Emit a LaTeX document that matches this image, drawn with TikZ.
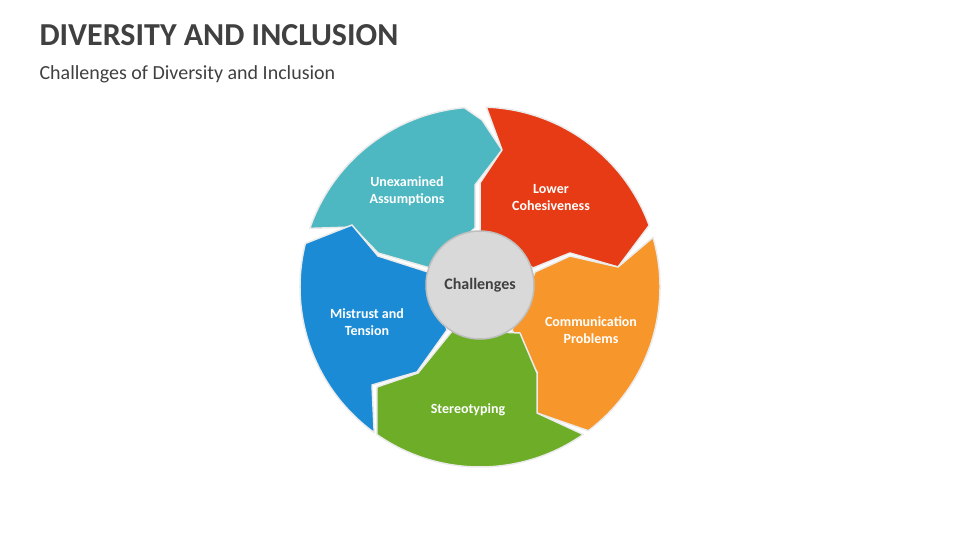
\documentclass[tikz,border=0pt]{standalone}
\usepackage{fontspec}
\setmainfont{Carlito}
\usetikzlibrary{calc}
\definecolor{tealc}{HTML}{4DB8C1}
\definecolor{redc}{HTML}{E63B14}
\definecolor{orangec}{HTML}{F7962A}
\definecolor{greenc}{HTML}{6DAD28}
\definecolor{bluec}{HTML}{1B8BD6}
\definecolor{darkt}{HTML}{404040}
\begin{document}
\begin{tikzpicture}[x=1pt,y=-1pt,
  seg/.style={draw=black!8,line width=1.5pt,line join=round},
  lbl/.style={text=white,font=\bfseries\fontsize{14}{17}\selectfont,align=center}]
\useasboundingbox (0,0) rectangle (960,540);
\coordinate (C) at (480,287);
% teal
\path[seg,fill=tealc] ($(C)+(199:180)$) arc[start angle=199,end angle=265,radius=180]
  -- (482,120) -- (502,150) -- (475,185) -- (475,228) -- (430,268) -- (378,253) -- (353,227) -- cycle;
% red
\path[seg,fill=redc] ($(C)+(272:180)$) arc[start angle=272,end angle=340,radius=180]
  -- (618,267) -- (570,253) -- (533,268) -- (480,232) -- (480,183) -- (502,150) -- cycle;
% orange
\path[seg,fill=orangec] ($(C)+(344:180)$) arc[start angle=344,end angle=413,radius=180]
  -- (537,413) -- (537,372) -- (512,330) -- (535,272) -- (570,256) -- (618,267) -- cycle;
% green
\path[seg,fill=greenc] ($(C)+(55:180)$) arc[start angle=55,end angle=125,radius=180]
  -- (377,387) -- (418,373) -- (453,330) -- (520,333) -- (537,373) -- (537,413) -- cycle;
% blue
\path[seg,fill=bluec] ($(C)+(126:180)$) arc[start angle=126,end angle=194,radius=180]
  -- (352,225) -- (378,256) -- (428,272) -- (447,330) -- (417,372) -- (372,385) -- cycle;
\node[circle,minimum size=108pt,fill=black!15,draw=black!25,line width=1.5pt,text=darkt,
  font=\bfseries\fontsize{16}{19}\selectfont] (ch) at (480,285) {Challenges};
\node[lbl] (ua) at (407,191) {Unexamined\\Assumptions};
\node[lbl] (lc) at (551,198) {Lower\\Cohesiveness};
\node[lbl] (cp) at (591,330) {Communication\\Problems};
\node[lbl] (st) at (468,410) {Stereotyping};
\node[lbl] (mt) at (367,322) {Mistrust and\\Tension};
\node[anchor=west,text=darkt,font=\bfseries\fontsize{32}{36}\selectfont] (title) at (36,35) {DIVERSITY AND INCLUSION};
\node[anchor=west,text=darkt,font=\fontsize{20}{24}\selectfont] (sub) at (36,74) {Challenges of Diversity and Inclusion};
\end{tikzpicture}
\end{document}
